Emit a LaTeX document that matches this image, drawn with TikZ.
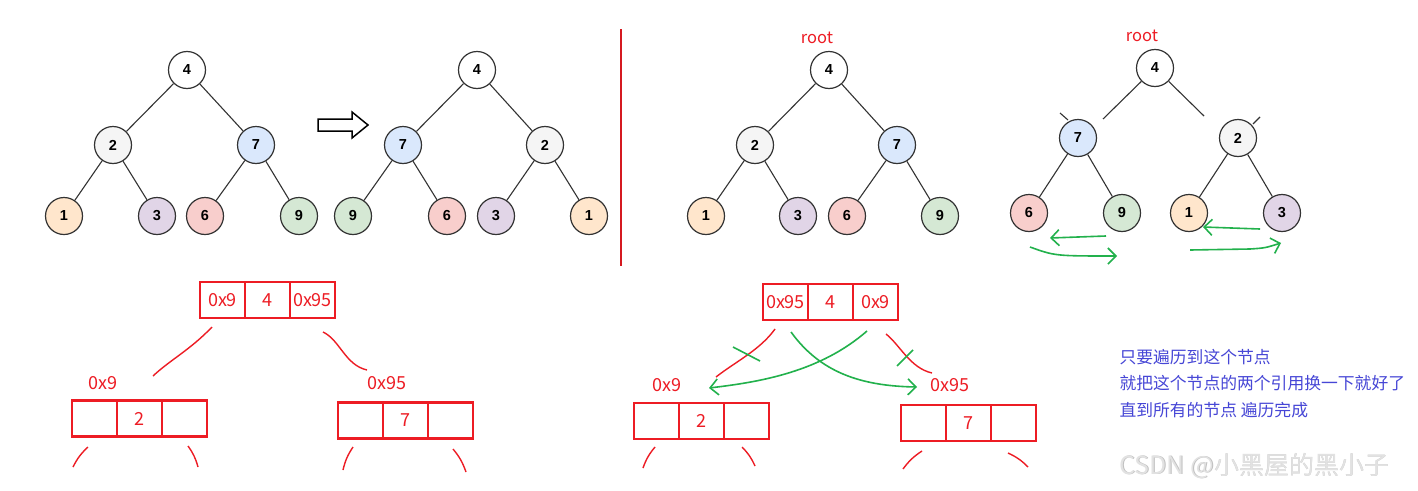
\documentclass[tikz,border=0pt]{standalone}
\usepackage{fontspec}
\setmainfont{Liberation Sans}
\newfontfamily\cjk{Noto Sans CJK SC}
\usetikzlibrary{positioning}
\usetikzlibrary{arrows.meta}

\definecolor{nodeline}{HTML}{333333}
\definecolor{paintred}{HTML}{ED1C24}
\definecolor{pengreen}{HTML}{22B14C}
\definecolor{noteblue}{HTML}{4646D6}
\definecolor{markgray}{HTML}{CFCFCF}
\definecolor{vone}{HTML}{FFE6CC}
\definecolor{vtwo}{HTML}{F5F5F5}
\definecolor{vthree}{HTML}{E1D5E7}
\definecolor{vsix}{HTML}{F8CECC}
\definecolor{vseven}{HTML}{DAE8FC}
\definecolor{vnine}{HTML}{D5E8D4}

\tikzset{
  bnode/.style={circle, draw=nodeline, line width=1.2pt, minimum size=37pt, inner sep=0pt,
    font=\bfseries\fontsize{14.5}{14.5}\selectfont},
  edge/.style={draw=nodeline, line width=1.1pt},
  cell/.style={draw=paintred, line width=2.8pt, minimum width=45pt, minimum height=36pt,
    inner sep=0pt, outer sep=0pt, text=paintred, font=\cjk\fontsize{18}{18}\selectfont},
  addr/.style={text=paintred, font=\cjk\fontsize{18}{18}\selectfont},
  pen/.style={paintred, line width=1.4pt},
  gpen/.style={pengreen, line width=1.6pt},
  barb/.style={-{Straight Barb[length=8pt,width=16pt]}},
  note/.style={text=noteblue, anchor=west, font=\cjk\fontsize{16.8}{16.8}\selectfont},
}

\begin{document}
\begin{tikzpicture}[x=1pt, y=-1pt]
  \useasboundingbox (0,0) rectangle (1418,490);
  \fill[white] (0,0) rectangle (1418,490);

  %---------------- tree before ----------------
  \node[bnode, fill=white]  (a4) at (187,70)  {4};
  \node[bnode, fill=vtwo]   (a2) at (113,145) {2};
  \node[bnode, fill=vseven] (a7) at (256,145) {7};
  \node[bnode, fill=vone]   (a1) at (64,216)  {1};
  \node[bnode, fill=vthree] (a3) at (157,216) {3};
  \node[bnode, fill=vsix]   (a6) at (205,216) {6};
  \node[bnode, fill=vnine]  (a9) at (299,216) {9};
  \foreach \p/\c in {a4/a2, a4/a7, a2/a1, a2/a3, a7/a6, a7/a9}
    \draw[edge] (\p) -- (\c);

  \draw[line width=1.5pt, fill=white] (318,119) -- (352,119) -- (352,112) -- (368,125)
    -- (352,138) -- (352,131) -- (318,131) -- cycle;

  %---------------- tree after ----------------
  \node[bnode, fill=white]  (b4) at (477,70)  {4};
  \node[bnode, fill=vseven] (b7) at (403,145) {7};
  \node[bnode, fill=vtwo]   (b2) at (545,145) {2};
  \node[bnode, fill=vnine]  (b9) at (353,216) {9};
  \node[bnode, fill=vsix]   (b6) at (447,216) {6};
  \node[bnode, fill=vthree] (b3) at (496,216) {3};
  \node[bnode, fill=vone]   (b1) at (589,216) {1};
  \foreach \p/\c in {b4/b7, b4/b2, b7/b9, b7/b6, b2/b3, b2/b1}
    \draw[edge] (\p) -- (\c);

  \draw[paintred!90!black, line width=1.3pt] (621,29) -- (621,266);

  %---------------- tree with root ----------------
  \node[addr, font=\cjk\fontsize{16.5}{16.5}\selectfont] (rootc) at (817,38) {root};
  \node[bnode, fill=white]  (c4) at (829,70)  {4};
  \node[bnode, fill=vtwo]   (c2) at (755,145) {2};
  \node[bnode, fill=vseven] (c7) at (897,145) {7};
  \node[bnode, fill=vone]   (c1) at (706,216) {1};
  \node[bnode, fill=vthree] (c3) at (798,216) {3};
  \node[bnode, fill=vsix]   (c6) at (847,216) {6};
  \node[bnode, fill=vnine]  (c9) at (940,216) {9};
  \foreach \p/\c in {c4/c2, c4/c7, c2/c1, c2/c3, c7/c6, c7/c9}
    \draw[edge] (\p) -- (\c);

  %---------------- tree swapped ----------------
  \node[addr, font=\cjk\fontsize{16.5}{16.5}\selectfont] (rootd) at (1142,36) {root};
  \node[bnode, fill=white]  (d4) at (1155,68)  {4};
  \node[bnode, fill=vseven] (d7) at (1078,138) {7};
  \node[bnode, fill=vtwo]   (d2) at (1238,138) {2};
  \node[bnode, fill=vsix]   (d6) at (1029,213) {6};
  \node[bnode, fill=vnine]  (d9) at (1122,213) {9};
  \node[bnode, fill=vone]   (d1) at (1189,213) {1};
  \node[bnode, fill=vthree] (d3) at (1282,213) {3};
  \foreach \p/\c in {d7/d6, d7/d9, d2/d1, d2/d3}
    \draw[edge] (\p) -- (\c);
  \coordinate (dl) at (1103,119);
  \coordinate (dr) at (1204,116);
  \draw[edge] (d4) -- (dl);
  \draw[edge] (d4) -- (dr);
  \draw[edge] (1060,113) -- (1068,120);
  \draw[edge] (1260,117) -- (1253,124);

  \draw[gpen, barb] (1106,236) -- (1050,238);
  \draw[gpen, barb] (1030,247) .. controls (1055,256) .. (1117,256);
  \draw[gpen, barb] (1260,229) -- (1203,227);
  \draw[gpen, barb] (1190,250) -- (1250,249) .. controls (1265,248) .. (1281,243);

  %---------------- memory before ----------------
  \node[cell] (ma1) at (222.5,300) {0x9};
  \node[cell, right=0pt of ma1] (ma2) {4};
  \node[cell, right=0pt of ma2] (ma3) {0x95};

  \node[addr] (pa1) at (103,383) {0x9};
  \node[cell] (la1) at (94.5,418.5) {};
  \node[cell, right=0pt of la1] (la2) {2};
  \node[cell, right=0pt of la2] (la3) {};

  \node[addr] (pa2) at (387,383) {0x95};
  \node[cell] (ra1) at (360.5,420.5) {};
  \node[cell, right=0pt of ra1] (ra2) {7};
  \node[cell, right=0pt of ra2] (ra3) {};

  \draw[pen] (212,327) .. controls (190,350) and (170,360) .. (153,376);
  \draw[pen] (323,332) .. controls (340,340) and (345,365) .. (367,370);
  \draw[pen] (88,447) to[bend right=10] (73,467);
  \draw[pen] (188,446) to[bend left=10] (198,467);
  \draw[pen] (353,447) to[bend right=10] (343,470);
  \draw[pen] (453,449) to[bend left=10] (466,472);

  %---------------- memory after ----------------
  \node[cell] (mb1) at (785.5,302) {0x95};
  \node[cell, right=0pt of mb1] (mb2) {4};
  \node[cell, right=0pt of mb2] (mb3) {0x9};

  \node[addr] (pb1) at (667,385) {0x9};
  \node[cell] (lb1) at (656.5,421) {};
  \node[cell, right=0pt of lb1] (lb2) {2};
  \node[cell, right=0pt of lb2] (lb3) {};

  \node[addr] (pb2) at (950,385) {0x95};
  \node[cell] (rb1) at (923.5,423) {};
  \node[cell, right=0pt of rb1] (rb2) {7};
  \node[cell, right=0pt of rb2] (rb3) {};

  \draw[pen] (775,329) .. controls (760,350) and (735,362) .. (716,377);
  \draw[pen] (886,334) .. controls (900,345) and (910,368) .. (932,373);
  \draw[pen] (655,447) to[bend right=10] (643,468);
  \draw[pen] (742,447) to[bend left=10] (755,466);
  \draw[pen] (922,451) to[bend right=10] (903,469);
  \draw[pen] (1008,453) to[bend left=10] (1028,467);

  \draw[gpen] (733,347) -- (760,361);
  \draw[gpen] (913,350) -- (897,366);
  \draw[gpen, barb] (791,332) .. controls (820,372) and (860,386) .. (917,387);
  \draw[gpen, barb] (867,331) .. controls (820,372) and (760,382) .. (709,388);

  %---------------- note ----------------
  \node[note] (n1) at (1116,357) {只要遍历到这个节点};
  \node[note] (n2) at (1116,383) {就把这个节点的两个引用换一下就好了};
  \node[note] (n3) at (1116,410) {直到所有的节点 遍历完成};

  \node[text=black!25, anchor=west, font=\cjk\fontsize{25}{25}\selectfont] at (1116.6,466.6) {CSDN @小黑屋的黑小子};
  \node[text=markgray!60, anchor=west, font=\cjk\fontsize{25}{25}\selectfont] (mark) at (1116,466) {CSDN @小黑屋的黑小子};
\end{tikzpicture}
\end{document}
